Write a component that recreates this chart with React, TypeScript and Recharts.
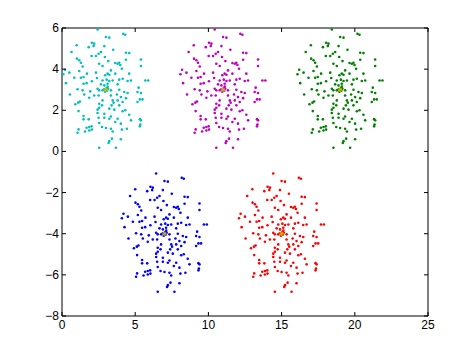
import { ScatterChart, Scatter, XAxis, YAxis } from "recharts";

const xTicks = [0, 5, 10, 15, 20, 25];
const yTicks = [-8, -6, -4, -2, 0, 2, 4, 6];

const clusterNames = ["cyan", "magenta", "green", "blue", "red"];
const clusterCenters: [number, number][] = [
  [3, 3],
  [11, 3],
  [19, 3],
  [7, -4],
  [15, -4],
];

// all five clusters share the same scatter around their centre
const spread: [number, number][] = [
  [-0.57, 2.93], [0, 2.56], [0.23, 2.53], [1.18, 2.72], [1.32, 2.67],
  [-0.96, 2.28], [-0.8, 2.24], [-0.84, 2.12], [-1.18, 2.07], [-2.0, 2.16],
  [-0.11, 2.12], [-2.35, 1.83], [0.5, 1.94], [-0.5, 1.75], [-0.34, 1.83],
  [-0.68, 1.64], [-0.98, 1.64], [1.37, 1.8], [1.59, 1.78], [-1.98, 1.51],
  [-1.82, 1.43], [-1.71, 1.31], [-1.59, 1.13], [-0.07, 1.59], [0.16, 1.39],
  [0.64, 1.3], [0.8, 1.26], [0.98, 1.2], [0.91, 1.31], [1.37, 1.46],
  [-0.46, 1.26], [-0.23, 1.15], [2.39, 1.47], [-2.8, 0.97], [-2.91, 0.75],
  [-2.5, 0.83], [-1.82, 0.91], [-1.3, 0.78], [-0.68, 0.83], [0.34, 0.94],
  [1.09, 1.02], [0.11, 0.78], [0.23, 0.73], [-0.05, 0.7], [0.64, 0.78],
  [1.59, 0.78], [2.39, 1.15], [-2.73, 0.32], [-2.16, 0.58], [-1.71, 0.58],
  [-1.53, 0.62], [-1.32, 0.32], [-1.53, 0.29], [-0.96, 0.41], [-0.61, 0.57],
  [-0.23, 0.45], [0.05, 0.49], [0.23, 0.42], [0.46, 0.45], [0.91, 0.49],
  [1.14, 0.53], [1.48, 0.42], [1.71, 0.45], [2.69, 0.45], [2.89, 0.45],
  [-0.34, 0.26], [-0.11, 0.21], [0.11, 0.29], [0.8, 0.26], [2.23, 0.1],
  [-1.94, 0.02], [-1.59, -0.03], [-1.07, -0.08], [-0.57, 0.05], [-0.46, -0.03],
  [-0.23, -0.03], [0.34, -0.03], [0.91, 0], [1.25, -0.11], [1.48, -0.16],
  [2.16, -0.11], [2.39, -0.16], [-2.46, -0.23], [-1.48, -0.23], [-0.8, -0.28],
  [-0.5, -0.28], [0.34, -0.28], [0.75, -0.23], [1.02, -0.36], [1.37, -0.41],
  [-1.14, -0.39], [-0.23, -0.52], [0.46, -0.52], [0.52, -0.63], [0.8, -0.52],
  [1.14, -0.6], [2.32, -0.47], [2.5, -0.47], [2.16, -0.6], [-1.89, -0.63],
  [-1.78, -0.57], [-2.09, -0.71], [-0.46, -0.68], [-0.27, -0.76], [0.39, -0.76],
  [0.91, -0.76], [-0.57, -0.97], [-0.46, -0.88], [0.23, -0.92], [0.57, -0.97],
  [1.14, -1.05], [1.32, -1.0], [-1.87, -1.04], [-0.11, -1.17], [-0.57, -1.13],
  [0.34, -1.3], [0.8, -1.41], [1.59, -1.22], [-1.53, -1.28], [-1.53, -1.44],
  [-1.18, -1.44], [-0.5, -1.36], [-0.11, -1.36], [0.23, -1.41], [2.32, -1.43],
  [2.39, -1.49], [1.71, -1.49], [0.64, -1.57], [1.02, -1.65], [2.35, -1.69],
  [2.32, -1.78], [-0.27, -1.81], [0, -1.86], [0.34, -1.9], [0.46, -2.03],
  [-1.87, -1.93], [-1.94, -2.09], [-1.32, -1.85], [-1.14, -1.81], [-0.98, -1.78],
  [-0.96, -1.94], [-1.14, -1.98], [-1.43, -2.03], [-0.46, -1.62], [1.43, -1.9],
  [1.09, -1.94], [0.41, -2.38], [0.23, -2.5], [0.18, -2.59], [1.02, -2.41],
  [-0.46, -2.82], [0.68, -2.82], [0.05, 0.08], [0.08, -0.05], [-0.05, -0.1],
  [0.12, 0.15], [-0.12, 0.02], [0.15, 0.05],
];

const colors = ["#00bfbf", "#bf00bf", "#008000", "#0000ff", "#ff0000"];
const font = "'Liberation Sans', Arial, sans-serif";

const clusters = clusterCenters.map(([cx, cy]) =>
  spread.map(([dx, dy]) => ({ x: +(cx + dx).toFixed(2), y: +(cy + dy).toFixed(2) }))
);
const centerData = clusterCenters.map(([x, y]) => ({ x, y }));

const fmt = (v: number) => (v < 0 ? "\u2212" + Math.abs(v) : String(v));

const BottomTick = (p: any) => (
  <g>
    <line x1={p.x} x2={p.x} y1={p.y} y2={p.y - 4} stroke="#000" />
    <text x={p.x} y={p.y + 13} textAnchor="middle" fontSize={12} fontFamily={font} fill="#000">
      {fmt(p.payload.value)}
    </text>
  </g>
);
const TopTick = (p: any) => <line x1={p.x} x2={p.x} y1={p.y} y2={p.y + 4} stroke="#000" />;
const LeftTick = (p: any) => (
  <g>
    <line x1={p.x} x2={p.x + 4} y1={p.y} y2={p.y} stroke="#000" />
    <text x={p.x - 3} y={p.y + 4} textAnchor="end" fontSize={12} fontFamily={font} fill="#000">
      {fmt(p.payload.value)}
    </text>
  </g>
);
const RightTick = (p: any) => <line x1={p.x} x2={p.x - 4} y1={p.y} y2={p.y} stroke="#000" />;

const dot = (color: string, r: number, op = 1) => (p: any) =>
  <circle cx={p.cx} cy={p.cy} r={r} fill={color} fillOpacity={op} />;

export default function App() {
  return (
    <div style={{ position: "absolute", left: 0, top: 0, background: "#fff" }}>
      <ScatterChart width={474} height={355} margin={{ top: 27, right: 45, bottom: 0, left: 0 }}>
        <XAxis
          dataKey="x"
          type="number"
          domain={[0, 25]}
          ticks={xTicks}
          height={39}
          stroke="#000"
          tickLine={false}
          tickSize={0}
          tickMargin={0}
          tick={<BottomTick />}
          interval={0}
        />
        <XAxis
          xAxisId="top"
          orientation="top"
          dataKey="x"
          type="number"
          domain={[0, 25]}
          ticks={xTicks}
          height={1}
          stroke="#000"
          tickLine={false}
          tickSize={0}
          tickMargin={0}
          tick={<TopTick />}
          interval={0}
        />
        <YAxis
          dataKey="y"
          type="number"
          domain={[-8, 6]}
          ticks={yTicks}
          width={62}
          stroke="#000"
          tickLine={false}
          tickSize={0}
          tickMargin={0}
          tick={<LeftTick />}
          interval={0}
        />
        <YAxis
          yAxisId="right"
          orientation="right"
          dataKey="y"
          type="number"
          domain={[-8, 6]}
          ticks={yTicks}
          width={1}
          stroke="#000"
          tickLine={false}
          tickSize={0}
          tickMargin={0}
          tick={<RightTick />}
          interval={0}
        />
        {clusters.map((pts, i) => (
          <Scatter
            key={clusterNames[i]}
            name={clusterNames[i]}
            data={pts}
            shape={dot(colors[i], 1.3)}
            isAnimationActive={false}
          />
        ))}
        <Scatter
          name="centres"
          xAxisId="top"
          yAxisId="right"
          data={centerData}
          shape={dot("#c8b400", 2.3, 0.75)}
          isAnimationActive={false}
        />
      </ScatterChart>
    </div>
  );
}
